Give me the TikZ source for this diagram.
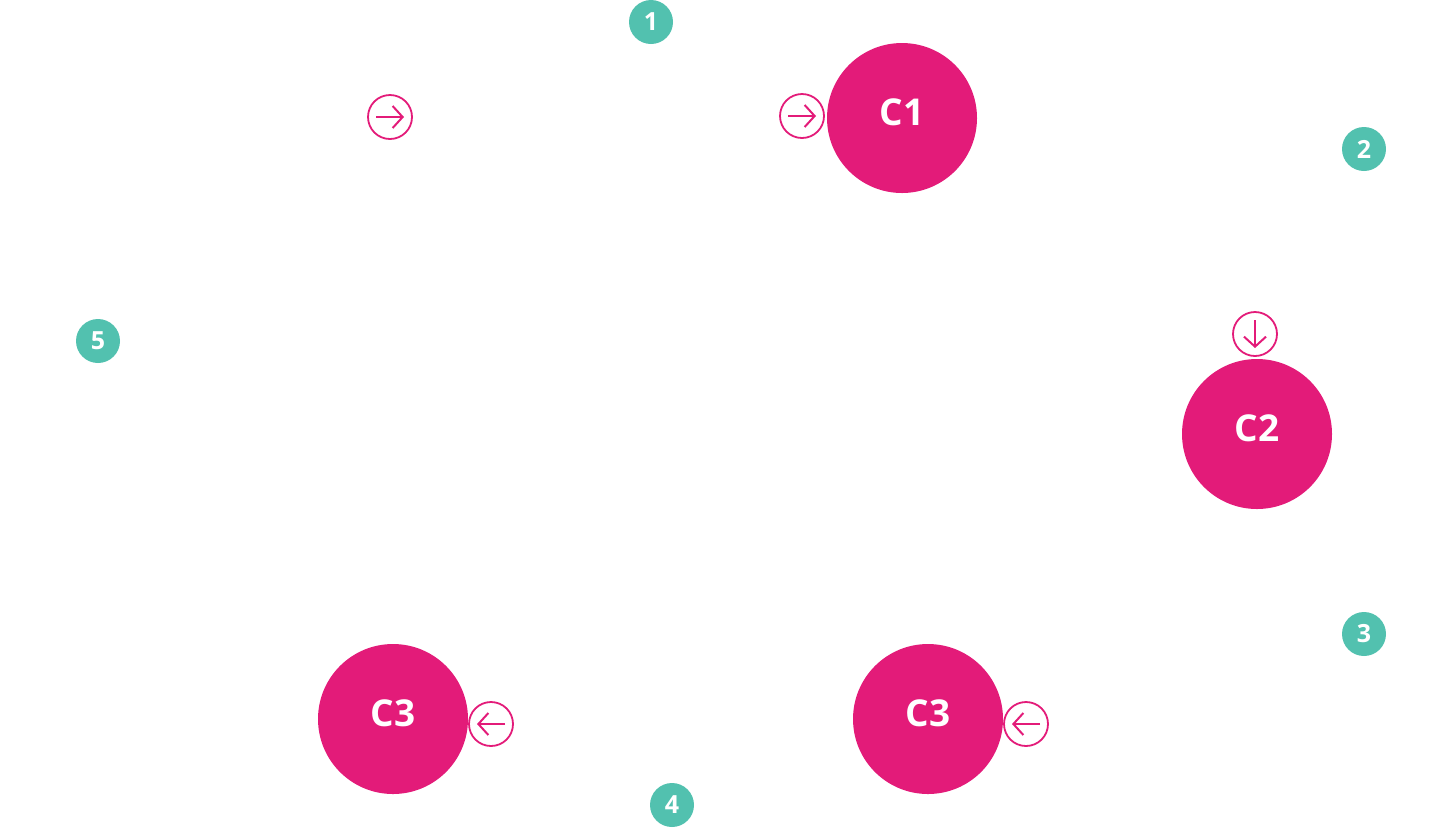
\documentclass[tikz,border=0pt]{standalone}
\usepackage{fontspec}
\setmainfont{Open Sans}
\usetikzlibrary{arrows.meta}
\definecolor{cmag}{HTML}{E31B79}
\definecolor{cteal}{HTML}{52C1AF}
\tikzset{>={Straight Barb[length=5pt,width=11pt]},
  bigdot/.style={circle,fill=cmag,minimum size=75pt,inner sep=0pt,text=white,
    text depth=5.5pt,font=\fontsize{18.5}{19}\selectfont\bfseries},
  numdot/.style={circle,fill=cteal,minimum size=22pt,inner sep=0pt,text=white,
    font=\fontsize{12.5}{13}\selectfont\bfseries},
  ring/.style={circle,draw=cmag,line width=0.9pt,minimum size=22pt,inner sep=0pt},
  ringarrow/.style={cmag,line width=1pt,->}}

\begin{document}
\begin{tikzpicture}[x=0.5pt,y=-0.5pt]
\useasboundingbox (0,0) rectangle (1440,827);

% numbered markers
\node[numdot] (n1) at (651,22)  {1};
\node[numdot] (n2) at (1364,149) {2};
\node[numdot] (n3) at (1364,634) {3};
\node[numdot] (n4) at (672,805) {4};
\node[numdot] (n5) at (98,341)  {5};

% big circles
\node[bigdot] (c1)  at (902,118)  {C1};
\node[bigdot] (c2)  at (1257,434) {C2};
\node[bigdot] (c3a) at (393,719)  {C3};
\node[bigdot] (c3b) at (928,719)  {C3};

% arrow rings
\node[ring] (r1) at (390,117) {};
\node[ring] (r2) at (802,116) {};
\node[ring] (r3) at (1255,334) {};
\node[ring] (r4) at (491,724) {};
\node[ring] (r5) at (1026,724) {};

\draw[ringarrow] ([xshift=-7pt]r1.center) -- ([xshift=7pt]r1.center);
\draw[ringarrow] ([xshift=-7pt]r2.center) -- ([xshift=7pt]r2.center);
\draw[ringarrow] ([yshift=7pt]r3.center) -- ([yshift=-7pt]r3.center);
\draw[ringarrow] ([xshift=7pt]r4.center) -- ([xshift=-7pt]r4.center);
\draw[ringarrow] ([xshift=7pt]r5.center) -- ([xshift=-7pt]r5.center);

\end{tikzpicture}
\end{document}
